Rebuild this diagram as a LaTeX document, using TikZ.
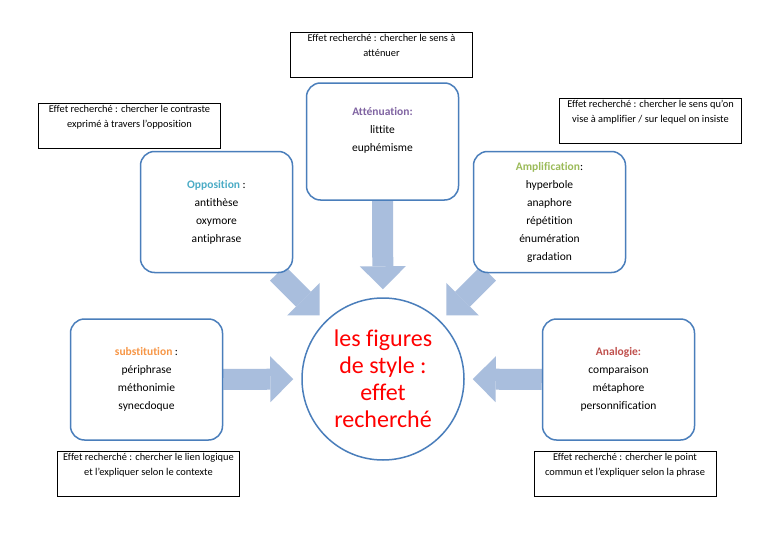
\documentclass[tikz,border=0pt]{standalone}
\usepackage{fontspec}
\setmainfont{Carlito}[Ligatures={TeX,NoCommon}]
\usetikzlibrary{arrows.meta,backgrounds}
\definecolor{boxblue}{RGB}{74,126,187}
\definecolor{arrowblue}{RGB}{169,190,221}
\definecolor{oppcol}{RGB}{75,172,198}
\definecolor{attcol}{RGB}{128,100,162}
\definecolor{ampcol}{RGB}{155,187,89}
\definecolor{subcol}{RGB}{247,150,70}
\definecolor{anacol}{RGB}{192,80,77}
\tikzset{
	figbox/.style={draw=boxblue, line width=1.5pt, rounded corners=14pt, fill=white, align=center,
		minimum width=152pt, minimum height=121pt, inner sep=0pt, font=\fontsize{11.5}{18}\selectfont},
	effetbox/.style={draw=black, line width=0.8pt, fill=white, align=center,
		minimum width=182pt, minimum height=45pt, inner sep=0pt, font=\fontsize{10.4}{15}\selectfont},
	fatarrow/.style={draw=arrowblue, line width=21pt,
		-{Triangle[length=23pt, width=46pt, line width=0pt]}, shorten >=8pt},
}
\begin{document}
\begin{tikzpicture}[x=1pt, y=-1pt]
				\useasboundingbox (0,0) rectangle (768,543);
				
				% centre
				\node[circle, draw=boxblue, line width=1.5pt, fill=white, minimum size=162pt, inner sep=0pt,
					align=center, text=red, font=\fontsize{24}{27}\selectfont] (circ) at (383,379)
					{les figures\\ de style :\\ effet\\ recherché};
				
				% figures
				\node[figbox] (opp) at (216.5,212) {\textcolor{oppcol}{\textbf{Opposition}} :\\ antithèse\\ oxymore\\ antiphrase};
				\node[figbox, minimum height=117pt] (att) at (382.5,141.5) {\textcolor{attcol}{\textbf{Atténuation:}}\\ littite\\ euphémisme\\ \strut};
				\node[figbox] (amp) at (549.5,212) {\textcolor{ampcol}{\textbf{Amplification}}:\\ hyperbole\\ anaphore\\ répétition\\ énumération\\ gradation};
				\node[figbox] (sub) at (146.5,379.5) {\textcolor{subcol}{\textbf{substitution}} :\\ périphrase\\ méthonimie\\ synecdoque};
				\node[figbox] (ana) at (618.5,379.5) {\textcolor{anacol}{\textbf{Analogie:}}\\ comparaison\\ métaphore\\ personnification};
				
				% effets
				\node[effetbox] (effatt) at (381.5,55) {Effet recherché : chercher le sens à\\ atténuer\\ \strut};
				\node[effetbox] (effopp) at (129.5,126) {Effet recherché : chercher le contraste\\ exprimé à travers l’opposition\\ \strut};
				\node[effetbox] (effamp) at (650.5,121) {Effet recherché : chercher le sens qu’on\\ vise à amplifier / sur lequel on insiste\\ \strut};
				\node[effetbox] (effsub) at (148.5,474) {Effet recherché : chercher le lien logique\\ et l’expliquer selon le contexte\\ \strut};
				\node[effetbox] (effana) at (625,474) {Effet recherché : chercher le point\\ commun et l’expliquer selon la phrase\\ \strut};
				
				\begin{scope}[on background layer]
					\fill[white] (0,0) rectangle (768,543);
					\draw[fatarrow] (att) -- (circ);
					\draw[fatarrow] (opp) -- (circ);
					\draw[fatarrow] (amp) -- (circ);
					\draw[fatarrow] (sub) -- (circ);
					\draw[fatarrow] (ana) -- (circ);
				\end{scope}
			\end{tikzpicture}
\end{document}
